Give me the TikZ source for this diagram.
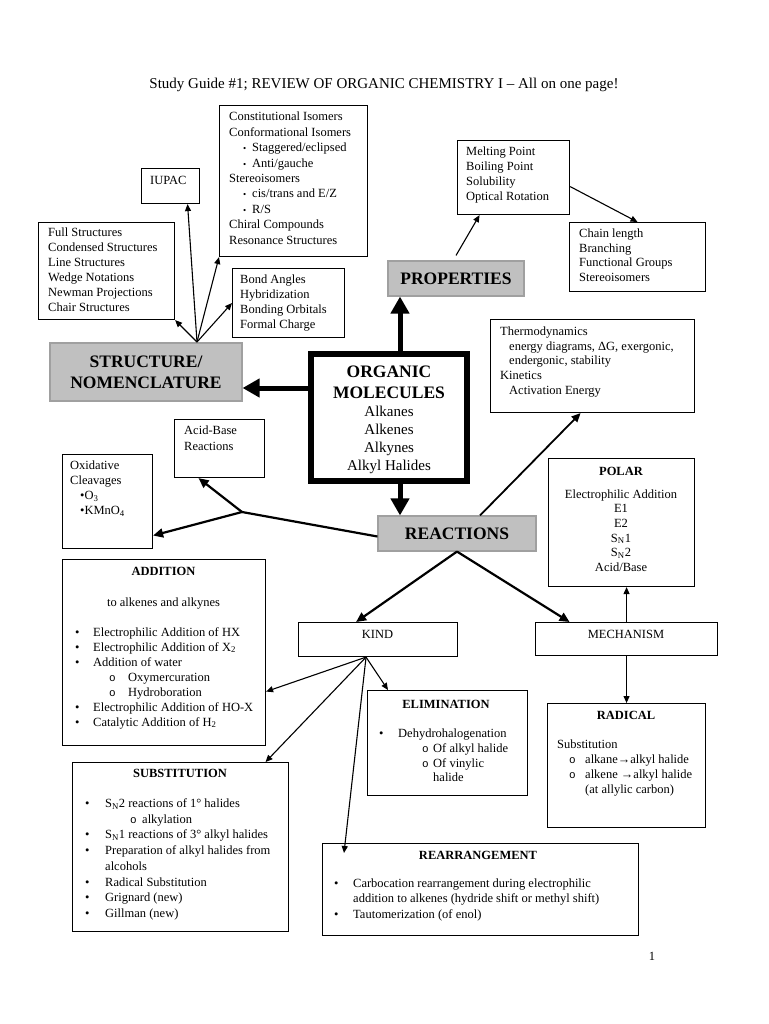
\documentclass[tikz,border=0pt]{standalone}
\usepackage{fontspec}
\setmainfont{Liberation Serif}
\setmonofont{Liberation Mono}
\usetikzlibrary{arrows.meta,calc}
\definecolor{boxgray}{RGB}{192,192,192}
\definecolor{boxedge}{RGB}{160,160,160}
\newcommand{\bul}[1][19pt]{\makebox[#1][l]{•}}
\newcommand{\ob}{{\fontsize{11}{11}\selectfont\texttt{o}}}
\newcommand{\dotb}{\makebox[9pt][l]{\fontsize{9}{9}\selectfont•}}

\begin{document}
\begin{tikzpicture}[
  x=1pt, y=-1pt,
  box/.style={draw, line width=1.1pt, anchor=north west, inner sep=0pt},
  graybox/.style={draw=boxedge, fill=boxgray, line width=1.1pt, inner sep=0pt,
    align=center, font=\bfseries\fontsize{17.5}{21}\selectfont},
  txt/.style={anchor=north west, inner sep=0pt, align=left,
    font=\fontsize{12.5}{15}\selectfont, execute at begin node={\rule{0pt}{10pt}}},
  ctxt/.style={txt, anchor=north, align=center},
  otxt/.style={anchor=north, inner sep=0pt, align=center},
  head/.style={anchor=base, inner sep=0pt, font=\bfseries\fontsize{12.5}{15}\selectfont},
  arr/.style={-{Triangle[length=7pt,width=6pt]}, line width=1.1pt},
  marr/.style={-{Triangle[length=10pt,width=9pt]}, line width=2.2pt},
  mline/.style={line width=2.2pt},
  barr/.style={-{Triangle[length=17pt,width=18pt]}, line width=5pt}
]
\useasboundingbox (0,0) rectangle (768,1024);
\fill[white] (0,0) rectangle (768,1024);

% Title
\node[ctxt, font=\fontsize{15}{18}\selectfont] (title) at (384,78)
  {Study Guide \#1; REVIEW OF ORGANIC CHEMISTRY I – All on one page!};

% Structure / nomenclature cluster
\node[box, minimum width=136, minimum height=97] (full) at (38,222) {};
\node[txt] (full-t) at (48,227.5) {Full Structures\\Condensed Structures\\Line Structures\\
  Wedge Notations\\Newman Projections\\Chair Structures};

\node[box, minimum width=58, minimum height=35] (iupac) at (141,168) {};
\node[txt] (iupac-t) at (150,174.5) {IUPAC};

\node[box, minimum width=148, minimum height=151] (iso) at (219,105) {};
\node[txt, font=\fontsize{12.5}{15.4}\selectfont] (iso-t) at (229,112) {Constitutional Isomers\\
  Conformational Isomers\\
  \hspace*{14pt}\dotb Staggered/eclipsed\\
  \hspace*{14pt}\dotb Anti/gauche\\
  Stereoisomers\\
  \hspace*{14pt}\dotb cis/trans and E/Z\\
  \hspace*{14pt}\dotb R/S\\
  Chiral Compounds\\
  Resonance Structures};

\node[box, minimum width=112, minimum height=69] (bond) at (232,268) {};
\node[txt] (bond-t) at (240,274.5) {Bond Angles\\Hybridization\\Bonding Orbitals\\Formal Charge};

\node[graybox, minimum width=192, minimum height=58] (struct) at (146,372) {STRUCTURE/\\NOMENCLATURE};

\coordinate (sfork) at (197,342);
\draw[arr] (sfork) -- (full.south east);
\draw[arr] (sfork) -- ([xshift=17pt]iupac.south);
\draw[arr] (sfork) -- (iso.south west);
\draw[arr] (sfork) -- (bond.west);

% Organic molecules
\node[draw, line width=6pt, minimum width=156, minimum height=127, inner sep=0pt] (organic) at (389,417.5) {};
\node[otxt, font=\bfseries\fontsize{17.5}{21}\selectfont, execute at begin node={\rule{0pt}{12.5pt}}]
  (organic-t) at (389,365.5) {ORGANIC\\MOLECULES};
\node[otxt, font=\fontsize{15}{18}\selectfont, execute at begin node={\rule{0pt}{11pt}}]
  (organic-l) at (389,406) {Alkanes\\Alkenes\\Alkynes\\Alkyl Halides};

% Properties
\node[graybox, minimum width=136, minimum height=35] (props) at (456,278.5) {PROPERTIES};

\node[box, minimum width=112, minimum height=74] (melt) at (457,140) {};
\node[txt] (melt-t) at (466,146.5) {Melting Point\\Boiling Point\\Solubility\\Optical Rotation};

\node[box, minimum width=136, minimum height=69] (chain) at (569,222) {};
\node[txt, font=\fontsize{12.5}{14.7}\selectfont] (chain-t) at (579,228.5) {Chain length\\Branching\\
  Functional Groups\\Stereoisomers};

\draw[barr] (organic.west |- 0,388) -- (struct.east |- 0,388);
\draw[barr] (400,0 |- organic.north) -- (400,0 |- props.south);
\draw[arr] ([yshift=5pt]props.north) -- ([xshift=-34pt]melt.south);
\draw[arr] ([yshift=-9pt]melt.east) -- (chain.north);

% Reactions
\node[box, minimum width=204, minimum height=93] (thermo) at (490,319) {};
\node[txt, font=\fontsize{12.5}{14.7}\selectfont] (thermo-t) at (500,326.5) {Thermodynamics\\
  \hspace*{9pt}energy diagrams, ΔG, exergonic,\\
  \hspace*{9pt}endergonic, stability\\
  Kinetics\\
  \hspace*{9pt}Activation Energy};

\node[graybox, minimum width=158, minimum height=35] (react) at (457,533.5) {REACTIONS};

\draw[barr] (400,0 |- organic.south) -- (400,0 |- react.north);
\draw[-{Triangle[length=9pt,width=8pt]}, line width=1.8pt] ([xshift=23pt]react.north) -- ([xshift=-12pt]thermo.south);

\node[box, minimum width=90, minimum height=58] (acid) at (174,419) {};
\node[txt, font=\fontsize{12.5}{16}\selectfont] (acid-t) at (184,425.5) {Acid-Base\\Reactions};

\node[box, minimum width=90, minimum height=94] (oxid) at (62,454) {};
\node[txt] (oxid-t) at (70,461) {Oxidative\\Cleavages\\
  \hspace*{10pt}•O\textsubscript{3}\\
  \hspace*{10pt}•KMnO\textsubscript{4}};

\coordinate (rfork) at (242,512);
\draw[mline] ([yshift=-3pt]react.west) -- (rfork);
\draw[marr] (rfork) -- ([xshift=-21pt]acid.south);
\draw[marr] (rfork) -- ([yshift=-34pt]oxid.east);

% Kind and mechanism
\node[box, minimum width=159, minimum height=34] (kind) at (298,622) {};
\node[ctxt] (kind-t) at (377.5,628.5) {KIND};

\node[box, minimum width=182, minimum height=33] (mech) at (535,622) {};
\node[ctxt] (mech-t) at (626,628.5) {MECHANISM};

\draw[marr] (react.south) -- ([xshift=-22pt]kind.north);
\draw[marr] (react.south) -- ([xshift=-57pt]mech.north);

\node[box, minimum width=146, minimum height=128] (polar) at (548,458) {};
\node[head] (polar-h) at (621,475.5) {POLAR};
\node[ctxt, font=\fontsize{12.5}{14.6}\selectfont] (polar-t) at (621,489.5) {Electrophilic Addition\\
  E1\\E2\\S\textsubscript{N}1\\S\textsubscript{N}2\\Acid/Base};

\node[box, minimum width=158, minimum height=124] (radical) at (547,703) {};
\node[head] (radical-h) at (626,719) {RADICAL};
\node[txt] (radical-t) at (557,739.5) {Substitution\\
  \hspace*{12pt}\makebox[16pt][l]{\ob}alkane→alkyl halide\\
  \hspace*{12pt}\makebox[16pt][l]{\ob}alkene →alkyl halide\\
  \hspace*{28pt}(at allylic carbon)};

\draw[arr] (mech.north) -- (mech.north |- polar.south);
\draw[arr] (mech.south) -- (mech.south |- radical.north);

% Kinds of reactions
\node[box, minimum width=203, minimum height=186] (add) at (62,559) {};
\node[head] (add-h) at (163.5,575.5) {ADDITION};
\node[ctxt] (add-s) at (163.5,596) {to alkenes and alkynes};
\node[txt] (add-t) at (75,627) {\bul[18pt]Electrophilic Addition of HX\\
  \bul[18pt]Electrophilic Addition of X\textsubscript{2}\\
  \bul[18pt]Addition of water\\
  \hspace*{34pt}\makebox[19pt][l]{\ob}Oxymercuration\\
  \hspace*{34pt}\makebox[19pt][l]{\ob}Hydroboration\\
  \bul[18pt]Electrophilic Addition of HO-X\\
  \bul[18pt]Catalytic Addition of H\textsubscript{2}};

\node[box, minimum width=160, minimum height=105] (elim) at (367,690) {};
\node[head] (elim-h) at (446,708.5) {ELIMINATION};
\node[txt, font=\fontsize{12.5}{14.7}\selectfont] (elim-t) at (379,729) {\bul Dehydrohalogenation\\
  \hspace*{43pt}\makebox[11pt][l]{\ob}Of alkyl halide\\
  \hspace*{43pt}\makebox[11pt][l]{\ob}Of vinylic\\
  \hspace*{54pt}halide};

\node[box, minimum width=216, minimum height=169] (sub) at (72,762) {};
\node[head] (sub-h) at (180,777.5) {SUBSTITUTION};
\node[txt, font=\fontsize{12.5}{15.7}\selectfont] (sub-t) at (85,798.5) {\bul[20pt]S\textsubscript{N}2 reactions of 1° halides\\
  \hspace*{45pt}\makebox[12pt][l]{\ob}alkylation\\
  \bul[20pt]S\textsubscript{N}1 reactions of 3° alkyl halides\\
  \bul[20pt]Preparation of alkyl halides from\\
  \hspace*{20pt}alcohols\\
  \bul[20pt]Radical Substitution\\
  \bul[20pt]Grignard (new)\\
  \bul[20pt]Gillman (new)};

\node[box, minimum width=316, minimum height=92] (rearr) at (322,843) {};
\node[head] (rearr-h) at (478,859) {REARRANGEMENT};
\node[txt] (rearr-t) at (334,879) {\bul Carbocation rearrangement during electrophilic\\
  \hspace*{19pt}addition to alkenes (hydride shift or methyl shift)\\[1pt]
  \bul Tautomerization (of enol)};

\coordinate (kfork) at ([xshift=-12pt]kind.south);
\draw[arr] (kfork) -- ([yshift=-39pt]add.east);
\draw[arr] (kfork) -- ([xshift=85pt]sub.north);
\draw[arr] (kfork) -- ([xshift=21pt]elim.north west);
\draw[arr] (kfork) -- ([shift={(22,10)}]rearr.north west);

% Page number
\node[ctxt] (pagenum) at (652,950) {1};
\end{tikzpicture}
\end{document}
